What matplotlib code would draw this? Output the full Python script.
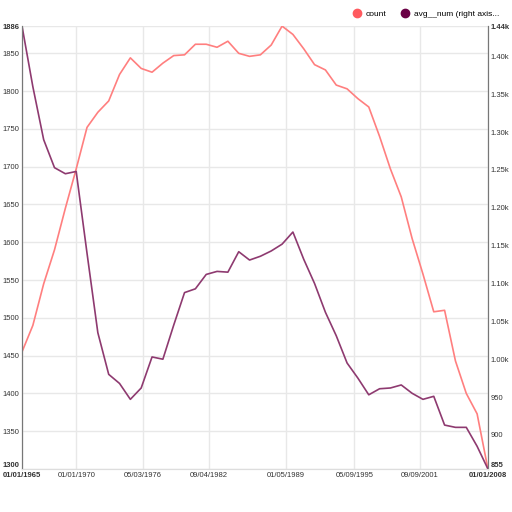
import datetime as dt

import matplotlib
matplotlib.use("Agg")
import matplotlib.pyplot as plt
import matplotlib.dates as mdates

plt.rcParams["font.family"] = ["Liberation Sans", "DejaVu Sans"]

years = list(range(1965, 2009))
count = [1455, 1490, 1545, 1590, 1645, 1697, 1752, 1772, 1787, 1822, 1844,
         1830, 1825, 1837, 1847, 1848, 1862, 1862, 1858, 1866, 1850, 1846,
         1848, 1861, 1886, 1875, 1856, 1835, 1828, 1808, 1803, 1790, 1779,
         1740, 1697, 1660, 1605, 1558, 1508, 1510, 1443, 1400, 1373, 1300]
avg_num = [1440, 1360, 1290, 1253, 1245, 1248, 1140, 1035, 980, 968, 947,
           962, 1003, 1000, 1045, 1088, 1093, 1112, 1116, 1115, 1142, 1131,
           1136, 1143, 1152, 1168, 1132, 1100, 1062, 1031, 995, 975, 953,
           961, 962, 966, 955, 947, 951, 913, 910, 910, 885, 855]
left_ticks = [1300, 1350, 1400, 1450, 1500, 1550, 1600, 1650, 1700, 1750, 1800, 1850, 1886]
right_ticks = [855, 900, 950, 1000, 1050, 1100, 1150, 1200, 1250, 1300, 1350, 1400, 1440]
right_labels = ["855", "900", "950", "1.00k", "1.05k", "1.10k", "1.15k", "1.20k",
                "1.25k", "1.30k", "1.35k", "1.40k", "1.44k"]
x_ticks = [dt.date(1965, 1, 1), dt.date(1970, 1, 1), dt.date(1976, 3, 5), dt.date(1982, 4, 9),
           dt.date(1989, 5, 1), dt.date(1995, 9, 5), dt.date(2001, 9, 9), dt.date(2008, 1, 1)]

dates = [dt.date(y, 1, 1) for y in years]

fig = plt.figure(figsize=(5.12, 5.12), dpi=100)
ax = fig.add_axes([0.043, 0.084, 0.91, 0.865])
ax2 = ax.twinx()

ax.plot(dates, count, color="#ff7f7f", lw=1.2)
ax2.plot(dates, avg_num, color="#8e3a70", lw=1.2)

ax.set_xlim(dates[0], dates[-1])
ax.set_ylim(1300, 1886)
ax2.set_ylim(855, 1440)
ax.set_yticks(left_ticks)
ax2.set_yticks(right_ticks)
ax2.set_yticklabels(right_labels)
ax.set_xticks(x_ticks)
ax.xaxis.set_major_formatter(mdates.DateFormatter("%d/%m/%Y"))

ax.grid(True, color="#e8e8e8", lw=1)
for a in (ax, ax2):
    a.tick_params(labelsize=5.5, length=0, colors="#333333", pad=2)
    a.spines["top"].set_visible(False)
    a.spines["left"].set_color("#777777")
    a.spines["right"].set_color("#777777")
    a.spines["bottom"].set_color("#dddddd")
for lbls in (ax.get_yticklabels(), ax2.get_yticklabels(), ax.get_xticklabels()):
    lbls[0].set_fontweight("bold")
    lbls[-1].set_fontweight("bold")
ax.get_yticklabels()[0].set_verticalalignment("bottom")
ax2.get_yticklabels()[0].set_verticalalignment("bottom")

h1, = ax.plot([], [], "o", color="#ff5a5f", ms=6, label="count")
h2, = ax.plot([], [], "o", color="#6b0046", ms=6, label="avg__num (right axis...")
fig.legend(handles=[h1, h2], loc="upper right", bbox_to_anchor=(0.99, 0.995), ncol=2,
           frameon=False, fontsize=6, handletextpad=0.1, columnspacing=1.2)

fig.savefig("out.png", dpi=100)
